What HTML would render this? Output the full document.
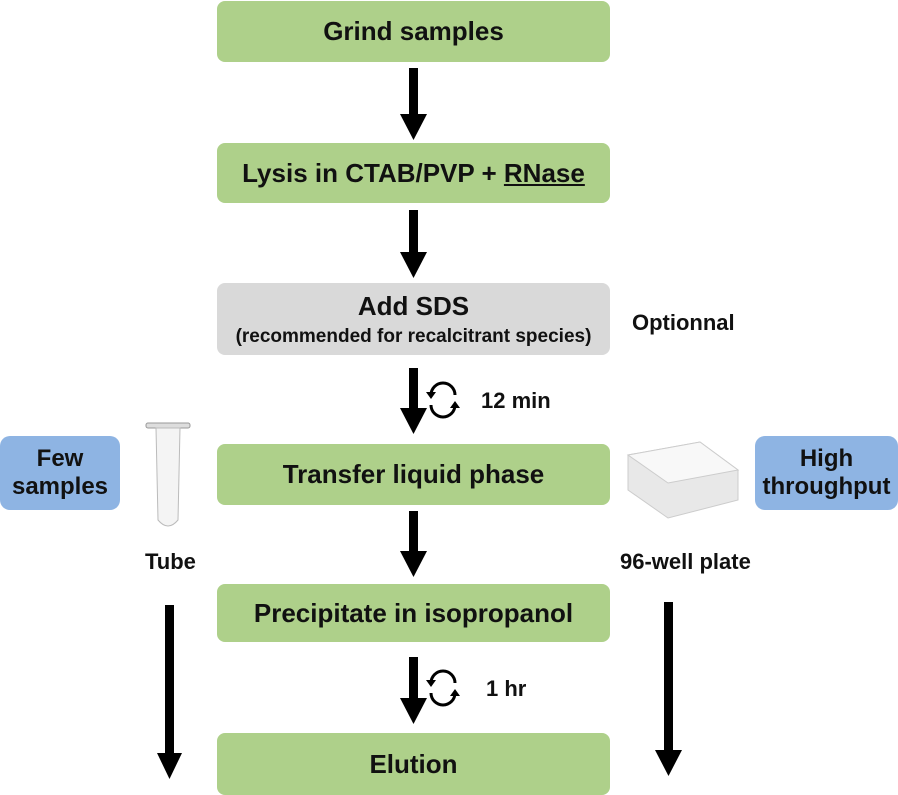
<!DOCTYPE html>
<html><head><style>
body{margin:0;width:898px;height:795px;background:#fff;position:relative;overflow:hidden;font-family:"Liberation Sans",sans-serif;font-weight:bold;color:#111}
.b{position:absolute;left:217px;width:393px;background:#aed08a;border-radius:8px;display:flex;flex-direction:column;align-items:center;justify-content:center;font-size:26px;text-align:center;white-space:nowrap}
.bl{position:absolute;background:#8eb4e3;border-radius:10px;display:flex;align-items:center;justify-content:center;text-align:center;font-size:24px;line-height:28px}
.t{position:absolute;font-size:22px}
</style></head><body>
<div class="b" style="top:1px;height:61px">Grind samples</div>
<div class="b" style="top:143px;height:60px"><div>Lysis in CTAB/PVP + <u>RNase</u></div></div>
<div class="b" style="top:283px;height:72px;background:#d9d9d9"><div>Add SDS</div><div style="font-size:19px;margin-top:4px">(recommended for recalcitrant species)</div></div>
<div class="b" style="top:444px;height:61px">Transfer liquid phase</div>
<div class="b" style="top:584px;height:58px">Precipitate in isopropanol</div>
<div class="b" style="top:733px;height:62px">Elution</div>
<div class="bl" style="left:0;top:436px;width:120px;height:74px">Few<br>samples</div>
<div class="bl" style="left:755px;top:436px;width:143px;height:74px">High<br>throughput</div>
<div class="t" style="left:632px;top:310px">Optionnal</div>
<div class="t" style="left:481px;top:388px">12 min</div>
<div class="t" style="left:486px;top:676px">1 hr</div>
<div class="t" style="left:145px;top:549px">Tube</div>
<div class="t" style="left:620px;top:549px">96-well plate</div>
<svg width="898" height="795" style="position:absolute;left:0;top:0">
<g fill="#000">
<rect x="409" y="68" width="9" height="48"/><polygon points="400,114 427,114 413.5,140"/>
<rect x="409" y="210" width="9" height="44"/><polygon points="400,252 427,252 413.5,278"/>
<rect x="409" y="368" width="9" height="42"/><polygon points="400,408 427,408 413.5,434"/>
<rect x="409" y="511" width="9" height="42"/><polygon points="400,551 427,551 413.5,577"/>
<rect x="409" y="657" width="9" height="43"/><polygon points="400,698 427,698 413.5,724"/>
<rect x="165" y="605" width="9" height="150"/><polygon points="157,753 182,753 169.5,779"/>
<rect x="664" y="602" width="9" height="150"/><polygon points="655,750 682,750 668.5,776"/>
</g>
<g fill="none" stroke="#000" stroke-width="3">
<path d="M431,395 A12,12 0 0 1 455,395"/><path d="M455,405 A12,12 0 0 1 431,405"/>
<path d="M431,683 A12,12 0 0 1 455,683"/><path d="M455,693 A12,12 0 0 1 431,693"/>
</g>
<g fill="#000"><polygon points="426,392 436,392 431,399"/><polygon points="450,408 460,408 455,401"/>
<polygon points="426,680 436,680 431,687"/><polygon points="450,696 460,696 455,689"/></g>
<rect x="146" y="423" width="44" height="5" rx="2" fill="#ddd" stroke="#999"/>
<path d="M156,428 L180,428 L178,520 Q168,532 158,520 Z" fill="#f4f4f4" stroke="#bbb"/>
<polygon points="628,455 700,442 738,470 738,500 668,518 628,490" fill="#e8e8e8" stroke="#ccc"/>
<polygon points="628,455 700,442 738,470 668,483" fill="#f8f8f8" stroke="#ccc"/>
</svg>
</body></html>
